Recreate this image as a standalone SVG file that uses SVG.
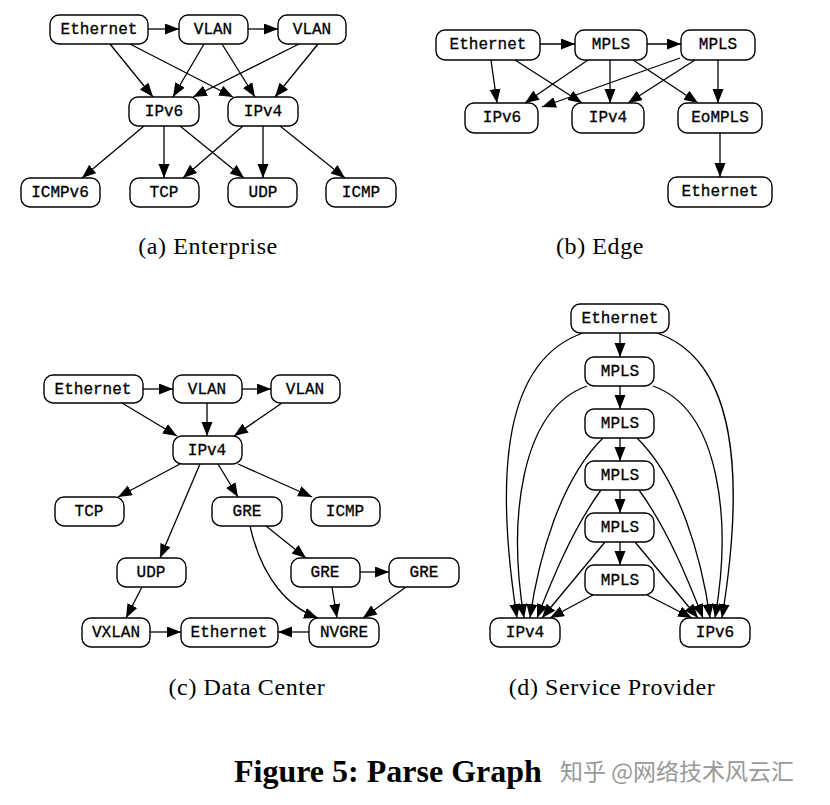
<svg xmlns="http://www.w3.org/2000/svg" width="830" height="805" viewBox="0 0 830 805">
<style>
.n rect{fill:#fff;stroke:#000;stroke-width:1.4}
.n text{font-family:"Liberation Mono",monospace;font-size:16px;text-anchor:middle;dominant-baseline:central;fill:#000;stroke:#000;stroke-width:0.3}
#edges path{fill:none;stroke:#000;stroke-width:1.3;marker-end:url(#ah)}
.cap{font-family:"Liberation Serif",serif;font-size:24px;text-anchor:middle;letter-spacing:0.6px}
</style>
<defs>
<marker id="ah" markerUnits="userSpaceOnUse" markerWidth="16" markerHeight="12" refX="14" refY="5.5" orient="auto"><path d="M0,0 L14,5.5 L0,11 z" fill="#000"/></marker>
</defs>
<rect width="830" height="805" fill="#fff"/>
<g id="edges">
<!-- a -->
<path d="M148,29 L179,29"/><path d="M248,29 L278,29"/>
<path d="M110,44 L153,97"/><path d="M130,44 L233,97"/>
<path d="M204,44 L173,97"/><path d="M222,44 L255,97"/>
<path d="M299,44 L193,97"/><path d="M318,44 L275,97"/>
<path d="M144,126 L82,178"/><path d="M164,126 L164,178"/><path d="M180,126 L244,178"/>
<path d="M243,126 L183,178"/><path d="M263,126 L263,178"/><path d="M280,126 L345,178"/>
<!-- b -->
<path d="M540,44 L575,44"/><path d="M647,44 L681,44"/>
<path d="M491,60 L497,103"/><path d="M515,60 L582,103"/>
<path d="M588,60 L525,103"/><path d="M610,60 L610,103"/><path d="M633,60 L698,103"/>
<path d="M680,58 L542,107"/><path d="M695,60 L628,103"/><path d="M718,60 L718,103"/>
<path d="M720,133 L720,177"/>
<!-- c -->
<path d="M143,389 L173,389"/><path d="M242,389 L271,389"/>
<path d="M122,403 L177,436"/><path d="M207,403 L207,436"/><path d="M282,403 L234,436"/>
<path d="M180,464 L118,497"/><path d="M200,464 L160,558"/><path d="M218,464 L238,497"/><path d="M238,464 L312,497"/>
<path d="M266,526 L306,558"/><path d="M360,572 L389,572"/>
<path d="M250,526 C262,580 290,608 318,618"/>
<path d="M332,587 L337,618"/><path d="M406,587 L363,618"/>
<path d="M142,587 L126,618"/>
<path d="M150,632 L181,632"/><path d="M309,632 L278,632"/>
<!-- d -->
<path d="M620,333 L620,357"/><path d="M620,386 L620,409"/><path d="M620,438 L620,461"/><path d="M620,490 L620,513"/><path d="M620,542 L620,565"/>
<path d="M583,333 C505,360 494,470 517,618"/>
<path d="M657,333 C735,360 746,470 722,618"/>
<path d="M587,386 C520,410 508,520 524,618"/>
<path d="M653,386 C720,410 732,520 715,618"/>
<path d="M603,438 C560,480 538,560 530,618"/>
<path d="M637,438 C680,480 702,560 710,618"/>
<path d="M601,490 C572,530 552,580 537,618"/>
<path d="M639,490 C668,530 688,580 703,618"/>
<path d="M605,542 L542,618"/><path d="M635,542 L698,618"/>
<path d="M593,595 L550,618"/><path d="M647,595 L692,618"/>
</g>
<!-- a nodes -->
<g id="a_eth" class="n"><rect x="50" y="15" width="98" height="29" rx="9"/><text x="99" y="29.5">Ethernet</text></g>
<g id="a_vlan1" class="n"><rect x="179" y="15" width="69" height="29" rx="9"/><text x="213" y="29.5">VLAN</text></g>
<g id="a_vlan2" class="n"><rect x="278" y="15" width="68" height="29" rx="9"/><text x="312" y="29.5">VLAN</text></g>
<g id="a_ipv6" class="n"><rect x="129" y="97" width="70" height="29" rx="9"/><text x="164" y="111.5">IPv6</text></g>
<g id="a_ipv4" class="n"><rect x="228" y="97" width="70" height="29" rx="9"/><text x="263" y="111.5">IPv4</text></g>
<g id="a_icmpv6" class="n"><rect x="21" y="178" width="79" height="29" rx="9"/><text x="60" y="192.5">ICMPv6</text></g>
<g id="a_tcp" class="n"><rect x="130" y="178" width="69" height="29" rx="9"/><text x="164" y="192.5">TCP</text></g>
<g id="a_udp" class="n"><rect x="228" y="178" width="69" height="29" rx="9"/><text x="263" y="192.5">UDP</text></g>
<g id="a_icmp" class="n"><rect x="326" y="178" width="70" height="29" rx="9"/><text x="361" y="192.5">ICMP</text></g>
<text class="cap" x="208" y="254">(a)  Enterprise</text>
<!-- b nodes -->
<g id="b_eth" class="n"><rect x="436" y="30" width="104" height="30" rx="9"/><text x="488" y="44.5">Ethernet</text></g>
<g id="b_mpls1" class="n"><rect x="575" y="30" width="72" height="30" rx="9"/><text x="611" y="44.5">MPLS</text></g>
<g id="b_mpls2" class="n"><rect x="681" y="30" width="74" height="30" rx="9"/><text x="718" y="44.5">MPLS</text></g>
<g id="b_ipv6" class="n"><rect x="465" y="103" width="73" height="30" rx="9"/><text x="502" y="117.5">IPv6</text></g>
<g id="b_ipv4" class="n"><rect x="572" y="103" width="72" height="30" rx="9"/><text x="608" y="117.5">IPv4</text></g>
<g id="b_eompls" class="n"><rect x="678" y="103" width="84" height="30" rx="9"/><text x="720" y="117.5">EoMPLS</text></g>
<g id="b_eth2" class="n"><rect x="668" y="177" width="104" height="30" rx="9"/><text x="720" y="191.5">Ethernet</text></g>
<text class="cap" x="600" y="254">(b)  Edge</text>
<!-- c nodes -->
<g id="c_eth" class="n"><rect x="44" y="375" width="99" height="28" rx="9"/><text x="93" y="389.5">Ethernet</text></g>
<g id="c_vlan1" class="n"><rect x="173" y="375" width="69" height="28" rx="9"/><text x="207" y="389.5">VLAN</text></g>
<g id="c_vlan2" class="n"><rect x="271" y="375" width="69" height="28" rx="9"/><text x="305" y="389.5">VLAN</text></g>
<g id="c_ipv4" class="n"><rect x="173" y="436" width="69" height="28" rx="9"/><text x="207" y="450.5">IPv4</text></g>
<g id="c_tcp" class="n"><rect x="55" y="497" width="69" height="29" rx="9"/><text x="89" y="511.5">TCP</text></g>
<g id="c_gre1" class="n"><rect x="212" y="497" width="70" height="29" rx="9"/><text x="247" y="511.5">GRE</text></g>
<g id="c_icmp" class="n"><rect x="311" y="497" width="69" height="29" rx="9"/><text x="345" y="511.5">ICMP</text></g>
<g id="c_udp" class="n"><rect x="117" y="558" width="69" height="29" rx="9"/><text x="151" y="572.5">UDP</text></g>
<g id="c_gre2" class="n"><rect x="291" y="558" width="69" height="29" rx="9"/><text x="325" y="572.5">GRE</text></g>
<g id="c_gre3" class="n"><rect x="389" y="558" width="70" height="29" rx="9"/><text x="424" y="572.5">GRE</text></g>
<g id="c_vxlan" class="n"><rect x="82" y="618" width="68" height="29" rx="9"/><text x="116" y="632.5">VXLAN</text></g>
<g id="c_eth2" class="n"><rect x="181" y="618" width="97" height="29" rx="9"/><text x="229" y="632.5">Ethernet</text></g>
<g id="c_nvgre" class="n"><rect x="309" y="618" width="70" height="29" rx="9"/><text x="344" y="632.5">NVGRE</text></g>
<text class="cap" x="247" y="695">(c)  Data Center</text>
<!-- d nodes -->
<g id="d_eth" class="n"><rect x="571" y="304" width="98" height="29" rx="9"/><text x="620" y="318.5">Ethernet</text></g>
<g id="d_mpls1" class="n"><rect x="585" y="357" width="69" height="29" rx="9"/><text x="620" y="371.5">MPLS</text></g>
<g id="d_mpls2" class="n"><rect x="585" y="409" width="69" height="29" rx="9"/><text x="620" y="423.5">MPLS</text></g>
<g id="d_mpls3" class="n"><rect x="585" y="461" width="69" height="29" rx="9"/><text x="620" y="475.5">MPLS</text></g>
<g id="d_mpls4" class="n"><rect x="585" y="513" width="69" height="29" rx="9"/><text x="620" y="527.5">MPLS</text></g>
<g id="d_mpls5" class="n"><rect x="585" y="565" width="69" height="30" rx="9"/><text x="620" y="580.5">MPLS</text></g>
<g id="d_ipv4" class="n"><rect x="490" y="618" width="70" height="29" rx="9"/><text x="525" y="632.5">IPv4</text></g>
<g id="d_ipv6" class="n"><rect x="680" y="618" width="70" height="29" rx="9"/><text x="715" y="632.5">IPv6</text></g>
<text class="cap" x="612" y="695">(d)  Service Provider</text>
<text x="234" y="782" font-family="Liberation Serif,serif" font-size="32" font-weight="bold">Figure 5: Parse Graph</text>
<text x="560" y="780" font-family="Noto Sans CJK SC,sans-serif" font-size="23" fill="#999">知乎 @网络技术风云汇</text>
</svg>
